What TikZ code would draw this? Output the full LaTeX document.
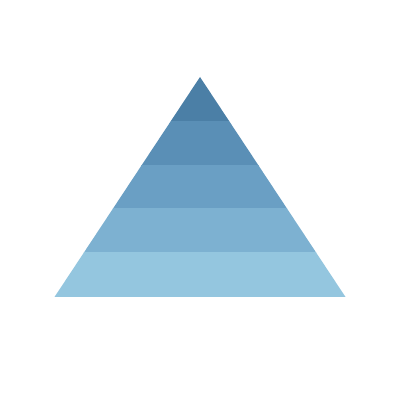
\documentclass[tikz,border=0pt]{standalone}
\usetikzlibrary{calc}

\definecolor{bandA}{HTML}{4B7FA6}
\definecolor{bandB}{HTML}{5A8FB6}
\definecolor{bandC}{HTML}{6A9FC4}
\definecolor{bandD}{HTML}{7DB1D1}
\definecolor{bandE}{HTML}{94C6DF}

\begin{document}
\begin{tikzpicture}[x=0.025cm,y=-0.025cm]
	\begin{scope}
\useasboundingbox[fill=white] (0,0) rectangle (400,400);
\coordinate (apex) at (200,77);
\coordinate (left) at (54.5,297);
\coordinate (right) at (345.5,297);

\clip (apex)--(right)--(left)--cycle;
\fill[bandA] (0,70) rectangle (400,121.5);
\fill[bandB] (0,121) rectangle (400,165.5);
\fill[bandC] (0,165) rectangle (400,208.5);
\fill[bandD] (0,208) rectangle (400,252.5);
\fill[bandE] (0,252) rectangle (400,297);

	\end{scope}
\end{tikzpicture}
\end{document}
